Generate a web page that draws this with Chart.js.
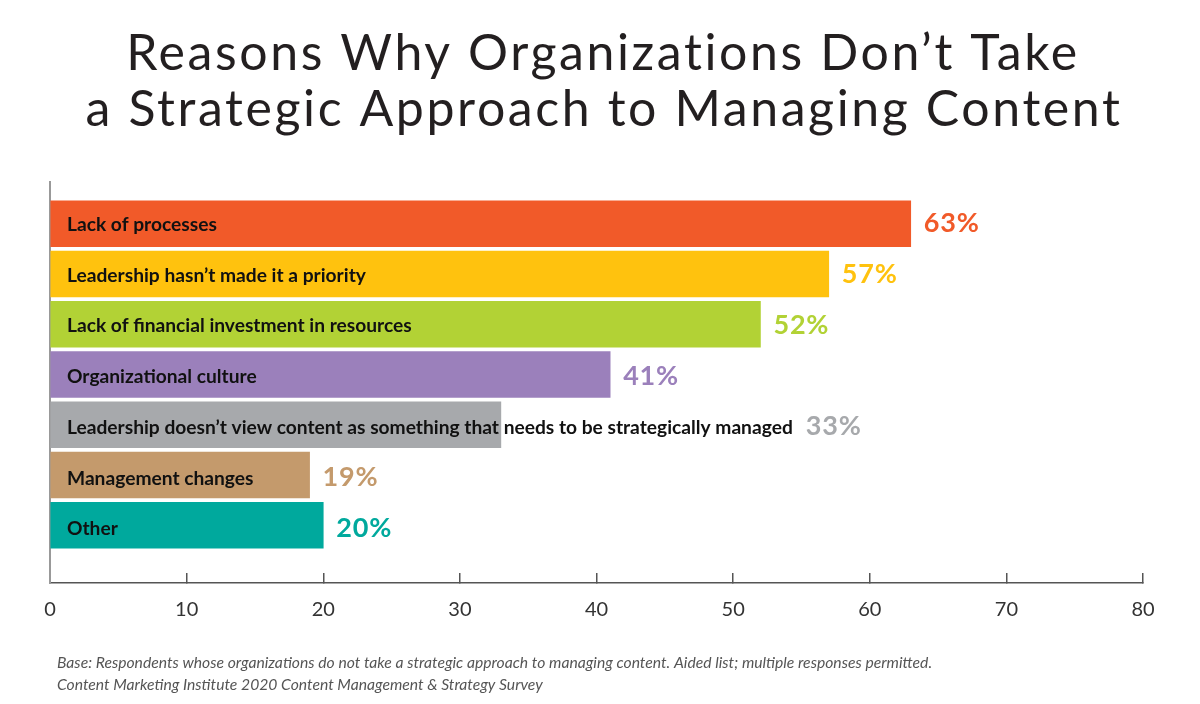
<!DOCTYPE html>
<html>
<head>
<meta charset="utf-8">
<script src="https://cdn.jsdelivr.net/npm/chart.js@4.4.1/dist/chart.umd.min.js"></script>
<style>
  html, body { margin: 0; padding: 0; background: #fff; }
  #wrap { width: 1200px; height: 704px; position: relative; }
</style>
</head>
<body>
<div id="wrap"><canvas id="c" width="1200" height="704"></canvas></div>
<script>
const titleLines = ["Reasons Why Organizations Don\u2019t Take", "a Strategic Approach to Managing Content"];
const categories = [
  "Lack of processes",
  "Leadership hasn\u2019t made it a priority",
  "Lack of financial investment in resources",
  "Organizational culture",
  "Leadership doesn\u2019t view content as something that needs to be strategically managed",
  "Management changes",
  "Other"
];
const values = [63, 57, 52, 41, 33, 19, 20];
const barColors = ["#F15A29", "#FFC20E", "#B2D235", "#9B80BB", "#A7A9AC", "#C49A6C", "#00A99D"];
const xTicks = [0, 10, 20, 30, 40, 50, 60, 70, 80];
const footnoteLines = [
  "Base: Respondents whose organizations do not take a strategic approach to managing content. Aided list; multiple responses permitted.",
  "Content Marketing Institute 2020 Content Management & Strategy Survey"
];

const FONT = "Lato, 'Open Sans', sans-serif";

const textPlugin = {
  id: 'textPlugin',
  afterDraw(chart) {
    const ctx = chart.ctx;
    ctx.save();
    // Title
    ctx.fillStyle = '#231F20';
    ctx.font = "400 50px " + FONT;
    ctx.letterSpacing = '2.6px';
    ctx.textAlign = 'center';
    ctx.textBaseline = 'alphabetic';
    ctx.fillText(titleLines[0], 603, 70);
    ctx.fillText(titleLines[1], 604, 126);
    ctx.letterSpacing = '0px';
    // Footnote
    ctx.fillStyle = '#555';
    ctx.font = "italic 400 15.7px " + FONT;
    ctx.textAlign = 'left';
    ctx.fillText(footnoteLines[0], chart.chartArea.left + 7, 668);
    ctx.fillText(footnoteLines[1], chart.chartArea.left + 7, 690);
    ctx.restore();
  },
  afterDatasetsDraw(chart) {
    const ctx = chart.ctx;
    const meta = chart.getDatasetMeta(0);
    ctx.save();
    ctx.textBaseline = 'middle';
    ctx.textAlign = 'left';
    meta.data.forEach((el, i) => {
      const dy = i * 0.5;
      ctx.font = "700 19.2px " + FONT;
      ctx.fillStyle = '#111';
      const lx = chart.chartArea.left + 17;
      ctx.fillText(categories[i], lx, el.y + 1 + dy);
      const textEnd = lx + ctx.measureText(categories[i]).width;
      const vx = Math.max(el.x, textEnd) + 13;
      ctx.font = "700 27px " + FONT;
      ctx.letterSpacing = '0.8px';
      ctx.fillStyle = barColors[i];
      ctx.fillText(values[i] + '%', vx, el.y + dy);
      ctx.letterSpacing = '0px';
    });
    ctx.restore();
  }
};

new Chart(document.getElementById('c'), {
  type: 'bar',
  data: {
    datasets: [{
      data: values.map((v, i) => ({ x: v, y: i })),
      backgroundColor: barColors,
      borderWidth: 0,
      barThickness: 46
    }]
  },
  options: {
    indexAxis: 'y',
    responsive: false,
    animation: false,
    devicePixelRatio: 1,
    layout: { padding: { top: 182, left: 50, right: 57, bottom: 0 } },
    plugins: { legend: { display: false }, title: { display: false }, tooltip: { enabled: false } },
    scales: {
      x: {
        type: 'linear',
        position: 'bottom',
        min: 0, max: 80,
        afterBuildTicks(scale) { scale.ticks = xTicks.map(v => ({ value: v })); },
        afterFit(scale) { scale.height = 121; },
        grid: { display: true, drawOnChartArea: false, drawTicks: true, tickLength: -10, color: '#555', lineWidth: 1.5 },
        border: { display: true, color: '#555', width: 1.5 },
        ticks: { color: '#333', font: { family: FONT, size: 20 }, padding: 25, maxRotation: 0 }
      },
      y: {
        type: 'linear',
        reverse: true,
        offset: false,
        min: -0.83, max: 7.15,
        afterFit(scale) { scale.width = 0; },
        grid: { display: false, offset: false },
        border: { display: true, color: '#999', width: 2 },
        ticks: { display: false }
      }
    }
  },
  plugins: [textPlugin]
});
</script>
</body>
</html>
